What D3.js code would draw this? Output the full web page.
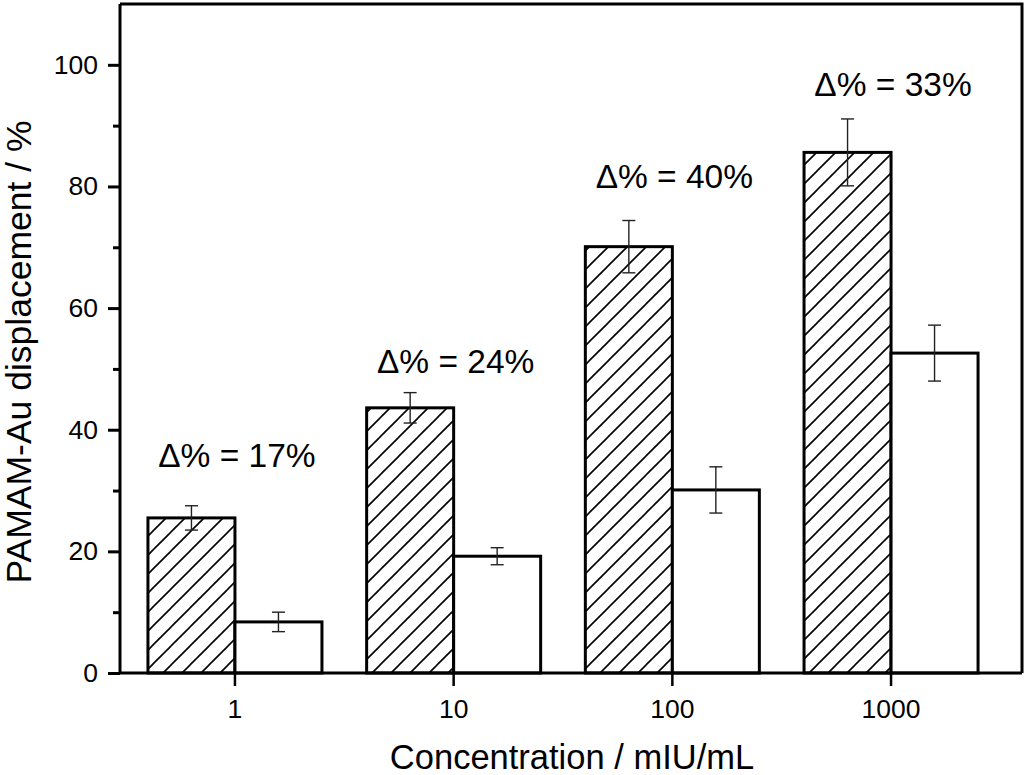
<!DOCTYPE html>
<html><head><meta charset="utf-8">
<script src="https://cdn.jsdelivr.net/npm/d3@7"></script>
<style>
html,body{margin:0;padding:0;background:#fff;}
svg{display:block;font-family:Arial,"Liberation Sans",sans-serif;}
</style></head>
<body><svg id="c" width="1025" height="775"></svg>
<script>
const categories = ["1","10","100","1000"];
const hatchedValues = [25.5, 43.6, 70.1, 85.6];
const hatchedErrors = [2.0, 2.5, 4.3, 5.5];
const plainValues = [8.4, 19.2, 30.1, 52.6];
const plainErrors = [1.6, 1.4, 3.8, 4.6];
const deltaLabels = ["Δ% = 17%","Δ% = 24%","Δ% = 40%","Δ% = 33%"];
const deltaLabelY = [33.9, 49.3, 79.8, 94.9];
const yTicks = [0,20,40,60,80,100];
const yMinorTicks = [10,30,50,70,90];
const xTitle = "Concentration / mIU/mL";
const yTitle = "PAMAM-Au displacement / %";

const svg = d3.select("#c");
const L = 120, R = 1022, T = 4, B = 673;

const y = d3.scaleLinear().domain([0,110]).range([B, T]);
const x = d3.scaleBand().domain(categories).range([125.6, 1000.4]).padding(0);
const sub = d3.scaleBand().domain(["h","p"]).range([0, 174]);
const off = x.bandwidth()/2 - 87;

// hatch pattern
const defs = svg.append("defs");
const pat = defs.append("pattern").attr("id","hatch").attr("patternUnits","userSpaceOnUse")
  .attr("width",19).attr("height",19);
pat.append("rect").attr("width",19).attr("height",19).attr("fill","#fff");
pat.append("path").attr("d","M-2,2 L2,-2 M0,19 L19,0 M17,21 L21,17")
  .attr("stroke","#000").attr("stroke-width",1.6);

const rows = categories.map((c,i)=>({c, hv:hatchedValues[i], he:hatchedErrors[i], pv:plainValues[i], pe:plainErrors[i], lab:deltaLabels[i], ly:deltaLabelY[i]}));

// bars
const g = svg.append("g");
g.selectAll("rect.h").data(rows).join("rect").attr("class","h")
  .attr("x", d=>x(d.c)+off+sub("h")).attr("width", sub.bandwidth())
  .attr("y", d=>y(d.hv)).attr("height", d=>y(0)-y(d.hv))
  .attr("fill","url(#hatch)").attr("stroke","#000").attr("stroke-width",3);
g.selectAll("rect.p").data(rows).join("rect").attr("class","p")
  .attr("x", d=>x(d.c)+off+sub("p")).attr("width", sub.bandwidth())
  .attr("y", d=>y(d.pv)).attr("height", d=>y(0)-y(d.pv))
  .attr("fill","#fff").attr("stroke","#000").attr("stroke-width",3);

// error bars
function err(cls, key, v, e){
  const cx = d=>x(d.c)+off+sub(key)+sub.bandwidth()/2;
  const eg = g.selectAll("g."+cls).data(rows).join("g").attr("class",cls)
    .attr("stroke","#222").attr("stroke-width",1.4);
  eg.append("line").attr("x1",cx).attr("x2",cx).attr("y1",d=>y(d[v]+d[e])).attr("y2",d=>y(d[v]-d[e]));
  eg.append("line").attr("x1",d=>cx(d)-6.5).attr("x2",d=>cx(d)+6.5).attr("y1",d=>y(d[v]+d[e])).attr("y2",d=>y(d[v]+d[e]));
  eg.append("line").attr("x1",d=>cx(d)-6.5).attr("x2",d=>cx(d)+6.5).attr("y1",d=>y(d[v]-d[e])).attr("y2",d=>y(d[v]-d[e]));
}
err("eh","h","hv","he");
err("ep","p","pv","pe");

// frame
svg.append("path").attr("d",`M${L},${T}H${R}V${B}`).attr("fill","none").attr("stroke","#000").attr("stroke-width",3);

// axes
const yAxis = svg.append("g").attr("transform",`translate(${L},0)`)
  .call(d3.axisLeft(y).tickValues(yTicks).tickSize(12).tickPadding(10).tickSizeOuter(0));
const yMinor = svg.append("g").attr("transform",`translate(${L},0)`)
  .call(d3.axisLeft(y).tickValues(yMinorTicks).tickSize(7).tickFormat("").tickSizeOuter(0));
yMinor.select(".domain").remove();
const xAxis = svg.append("g").attr("transform",`translate(0,${B})`)
  .call(d3.axisBottom(x).tickSize(13).tickPadding(13).tickSizeOuter(0));
xAxis.select(".domain").attr("d",`M${L},0H${R}`);
yAxis.select(".domain").attr("d",`M0,${T}V${B}`);
[yAxis,yMinor,xAxis].forEach(a=>{
  a.selectAll("path,line").attr("stroke","#000").attr("stroke-width",3);
  a.selectAll("text").attr("font-size",26.5).attr("fill","#000").attr("font-family",'Arial,"Liberation Sans",sans-serif');
});
xAxis.selectAll(".tick line").attr("stroke-width",2.5);

// annotations
svg.selectAll("text.delta").data(rows).join("text").attr("class","delta")
  .attr("x", d=>x(d.c)+x.bandwidth()/2+2).attr("y", d=>y(d.ly))
  .attr("text-anchor","middle").attr("font-size",33.5).attr("fill","#000").text(d=>d.lab);

// titles
svg.append("text").attr("x",572).attr("y",769).attr("text-anchor","middle")
  .attr("font-size",34.5).attr("fill","#000").text(xTitle);
svg.append("text").attr("transform","translate(31,352) rotate(-90)").attr("text-anchor","middle")
  .attr("font-size",35.5).attr("fill","#000").text(yTitle);
</script></body></html>
